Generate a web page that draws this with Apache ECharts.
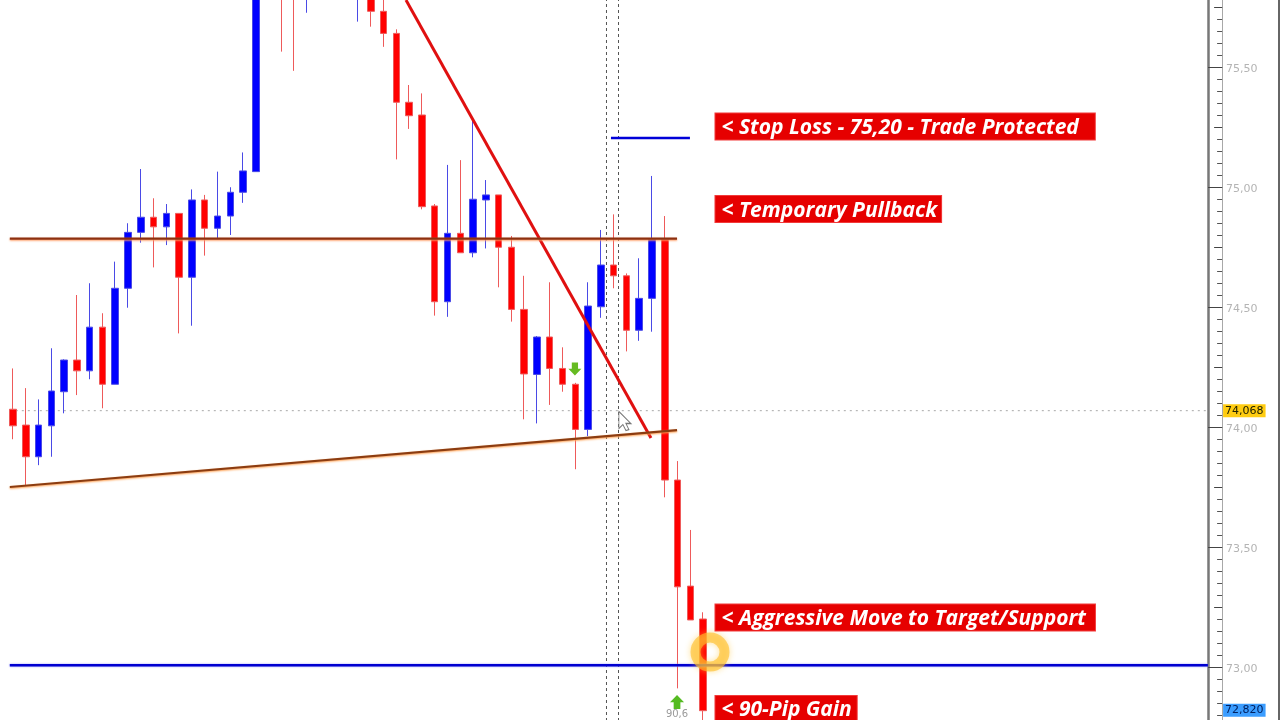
<!DOCTYPE html>
<html><head><meta charset="utf-8">
<style>html,body{margin:0;padding:0;background:#fff}#c{width:1280px;height:720px}</style>
<script src="https://cdn.jsdelivr.net/npm/echarts@6/dist/echarts.min.js"></script>
</head><body><div id="c"></div>
<script>
const opens=[74.074,74.008,73.876,74.005,74.147,74.279,74.234,74.416,74.178,74.578,74.811,74.874,74.834,74.890,74.624,74.946,74.828,74.879,74.978,75.064,75.90,75.98,75.95,75.86,76.05,76.00,76.10,75.86,75.86,75.732,75.640,75.353,75.300,74.921,74.522,74.807,74.726,74.946,74.967,74.749,74.490,74.219,74.375,74.244,74.178,73.990,74.501,74.675,74.630,74.403,74.536,74.782,73.779,73.337,73.200];
const closes=[74.005,73.876,74.008,74.150,74.279,74.234,74.416,74.178,74.578,74.811,74.874,74.834,74.890,74.624,74.946,74.828,74.879,74.978,75.067,75.904,76.02,75.90,75.88,75.96,75.95,76.12,75.98,75.98,75.732,75.640,75.353,75.297,74.918,74.522,74.807,74.726,74.949,74.967,74.749,74.490,74.221,74.375,74.244,74.178,73.990,74.504,74.675,74.630,74.403,74.536,74.782,73.779,73.334,73.196,72.818];
const lows=[73.949,73.758,73.841,73.876,74.057,74.133,74.199,74.078,74.178,74.497,74.768,74.665,74.758,74.390,74.422,74.714,74.786,74.800,74.934,75.064,75.86,75.564,75.484,75.726,75.88,75.90,75.85,75.689,75.668,75.584,75.115,75.242,74.907,74.464,74.459,74.726,74.707,74.744,74.582,74.439,74.032,74.015,74.092,74.147,73.824,73.962,74.455,74.578,74.315,74.359,74.397,73.707,72.911,73.196,72.758];
const highs=[74.244,74.162,74.115,74.328,74.282,74.550,74.599,74.474,74.689,74.849,75.075,74.953,74.929,74.890,74.990,74.967,75.064,74.999,75.144,75.92,76.08,76.06,76.02,76.04,76.10,76.18,76.16,76.08,75.90,75.80,75.657,75.425,75.390,74.929,75.092,75.112,75.279,75.029,74.967,74.796,74.630,74.379,74.603,74.332,74.184,74.603,74.821,74.886,74.640,74.703,75.046,74.879,73.858,73.571,73.228];

const resistanceLine=[[-0.25,74.785],[51.96,74.785]];
const supportTrend=[[-0.25,73.750],[51.96,73.987]];
const downTrend=[[30.75,75.779],[49.92,73.954]];
const stopLossLine=[[46.79,75.204],[52.97,75.204]];
const targetLine=[[-0.25,73.007],[93.5,73.007]];
const bidLine=[[-0.25,74.068],[93.5,74.068]];
const crossA=[[46.44,72.5],[46.44,76.5]];
const crossB=[[47.38,72.5],[47.38,76.5]];

const notes=[[54.93,75.252,'< Stop Loss - 75,20 - Trade Protected'],[54.93,74.908,'< Temporary Pullback'],[54.93,73.206,'< Aggressive Move to Target/Support'],[54.93,72.825,'< 90-Pip Gain']];
const noteRightPads=[16,4,9,5];
const bidTag=[[94.65,74.068,'74,068']];
const lastTag=[[94.65,72.820,'72,820']];
const upArrow=[[51.96,72.854,'90,6']];
const downArrow=[[43.97,74.242]];
const pointer=[[47.88,74.025]];
const highlight=[[54.54,73.062]];

const PRICE_MIN=72.5, PRICE_MAX=76.5;
const ohlc=opens.map((o,i)=>[i,o,closes[i],lows[i],highs[i]]);

function seg(data,color,width,extra){
  return {type:'line',data,symbol:'none',silent:true,animation:false,
    lineStyle:Object.assign({color,width},extra||{})};
}
const baseY={type:'value',min:PRICE_MIN,max:PRICE_MAX,position:'right',splitLine:{show:false},axisLabel:{show:false},axisLine:{show:false,onZero:false},axisTick:{show:false}};
const upPath='path://M5 0 L10 5.2 L7.4 5.2 L7.4 10 L2.6 10 L2.6 5.2 L0 5.2 Z';
const cursorPath='path://M0 0 L0 17 L4 13 L7 19 L10 18 L7 12 L12 12 Z';
const noteFont={color:'#ffffff',fontFamily:'Open Sans',fontWeight:'bold',fontStyle:'italic',fontSize:21};

const chart=echarts.init(document.getElementById('c'),null,{renderer:'canvas',width:1280,height:720});
chart.setOption({
  animation:false,backgroundColor:'#ffffff',
  grid:{left:9.8,width:1198.1,top:-173,height:960,outerBoundsMode:'none'},
  xAxis:{type:'value',min:-0.25,max:93.5,show:false},
  yAxis:[
    Object.assign({},baseY,{interval:0.05,offset:14.2,axisLine:{show:true,onZero:false,lineStyle:{color:'#a8a8a8',width:1}},axisTick:{show:true,inside:true,length:5,lineStyle:{color:'#555',width:1}}}),
    Object.assign({},baseY,{interval:0.25,offset:14.2,axisTick:{show:true,inside:true,length:8,lineStyle:{color:'#444',width:1}}}),
    Object.assign({},baseY,{interval:0.5,offset:14.2,axisTick:{show:true,inside:true,length:14,lineStyle:{color:'#444',width:1}},
      axisLabel:{show:true,margin:4,color:'#b4b4b4',fontFamily:'DejaVu Sans',fontSize:11,verticalAlign:'top',lineHeight:4,formatter:v=>v.toFixed(2).replace('.',',')}}),
    Object.assign({},baseY,{axisLine:{show:true,onZero:false,lineStyle:{color:'#777777',width:2.5}}})
  ],
  graphic:[{type:'rect',shape:{x:1278,y:0,width:2,height:720},style:{fill:'#666'},silent:true}],
  series:[
    Object.assign(seg(bidLine,'#a8a8a8',1,{type:[2,4]}),{z:1}),
    Object.assign(seg(crossA,'#555',1,{type:[3,3]}),{z:1}),
    Object.assign(seg(crossB,'#555',1,{type:[3,3]}),{z:1}),
    {type:'candlestick',data:ohlc,encode:{x:0,y:[1,2,3,4]},barWidth:7,z:2,animation:false,silent:true,
      itemStyle:{color:'#0000ff',color0:'#ff0000',borderColor:'#4a4ae6',borderColor0:'#ee5a5a',borderWidth:1}},
    Object.assign(seg(downTrend,'#e01010',3),{z:3}),
    Object.assign(seg(resistanceLine,'#8c3010',2.2,{shadowColor:'#ff9a60',shadowBlur:2,shadowOffsetY:1}),{z:4}),
    Object.assign(seg(supportTrend,'#8c3c10',2.2,{shadowColor:'#ffa050',shadowBlur:2,shadowOffsetY:1}),{z:4}),
    Object.assign(seg(stopLossLine,'#0000d8',2.5),{z:4}),
    Object.assign(seg(targetLine,'#0000d0',2.5,{shadowColor:'#9090ff',shadowBlur:2}),{z:4}),
    {type:'scatter',data:upArrow,symbol:upPath,symbolSize:[14,14],clip:false,z:5,silent:true,
      itemStyle:{color:'#55bb22',opacity:1},
      label:{show:true,position:'bottom',distance:0,formatter:p=>p.value[2],color:'#9a9a9a',fontFamily:'DejaVu Sans',fontSize:10}},
    {type:'scatter',data:downArrow,symbol:upPath,symbolRotate:180,symbolSize:[13,13],z:5,silent:true,itemStyle:{color:'#66bb22',opacity:1}},
    {type:'scatter',data:pointer,symbol:cursorPath,symbolSize:[12,19],z:6,silent:true,itemStyle:{color:'#ffffff',borderColor:'#777',borderWidth:1,opacity:1}},
    {type:'scatter',data:highlight,symbol:'circle',symbolSize:29,clip:false,z:6,silent:true,
      itemStyle:{color:'rgba(255,255,255,0)',borderColor:'rgba(255,190,40,0.62)',borderWidth:10,shadowColor:'rgba(255,200,60,0.8)',shadowBlur:6,opacity:1}},
    {type:'scatter',data:notes.map((n,i)=>({value:n,label:{padding:[0,noteRightPads[i],0,6]}})),symbolSize:1,clip:false,z:7,silent:true,itemStyle:{color:'rgba(0,0,0,0)',opacity:1},
      label:Object.assign({show:true,position:'right',distance:0,formatter:p=>'{t|'+p.value[2]+'}',
        backgroundColor:'#e60000',borderColor:'#f23a3a',borderWidth:1,
        rich:{t:Object.assign({},noteFont,{lineHeight:26,padding:[3,0,0,0],height:23})}},noteFont)},
    {type:'scatter',data:bidTag,symbolSize:1,clip:false,z:7,silent:true,itemStyle:{color:'rgba(0,0,0,0)',opacity:1},
      label:{show:true,position:'right',distance:0,formatter:p=>p.value[2],color:'#222200',fontFamily:'DejaVu Sans',fontSize:11,backgroundColor:'#ffcc11',padding:[1,2,1,2]}},
    {type:'scatter',data:lastTag,symbolSize:1,clip:false,z:7,silent:true,itemStyle:{color:'rgba(0,0,0,0)',opacity:1},
      label:{show:true,position:'right',distance:0,formatter:p=>p.value[2],color:'#002060',fontFamily:'DejaVu Sans',fontSize:11,backgroundColor:'#3b9dff',padding:[1,2,1,2]}}
  ]
});
</script></body></html>
